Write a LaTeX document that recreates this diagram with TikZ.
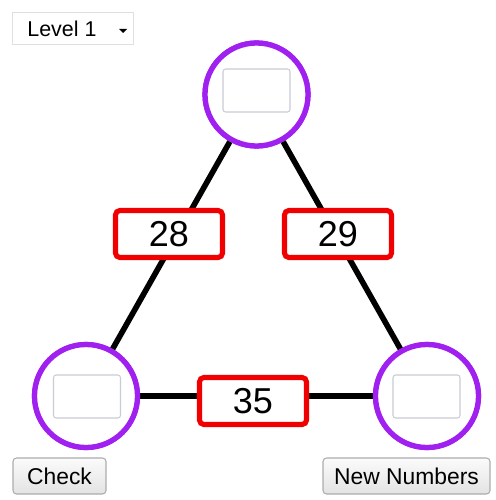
\documentclass[tikz,border=0pt]{standalone}
\usepackage{fontspec}
\setmainfont{Liberation Sans}
\definecolor{ringpurple}{HTML}{A020F0}
\definecolor{boxred}{HTML}{F00000}
\definecolor{inboxgray}{HTML}{C8CCD4}
\begin{document}
\begin{tikzpicture}[x=0.02cm,y=-0.02cm,
  ring/.style={circle, draw=ringpurple, line width=3pt, fill=white, minimum size=2.06cm, inner sep=0pt},
  inbox/.style={draw=inboxgray, rounded corners=1.5pt, line width=0.6pt, fill=white, minimum width=1.34cm, minimum height=0.86cm, inner sep=0pt},
  numbox/.style={draw=boxred, line width=2.9pt, rounded corners=2.5pt, fill=white, minimum width=2.14cm, minimum height=0.94cm, inner sep=0pt, font=\fontsize{20.5}{24}\selectfont},
  edgeline/.style={line width=3.2pt, black},
  btn/.style={draw=gray!65, rounded corners=2pt, top color=gray!3, bottom color=gray!22, line width=0.6pt, minimum height=0.72cm, inner sep=0pt, font=\fontsize{13}{15}\selectfont},
  ddbox/.style={draw=gray!25, line width=0.5pt, fill=white, minimum width=2.42cm, minimum height=0.64cm, inner sep=0pt}
]
\useasboundingbox (0,0) rectangle (496,500);
% circles
\node[ring] (top) at (256.5,94.5) {};
\node[ring] (bl) at (86,396) {};
\node[ring] (br) at (427,396) {};
% connectors
\draw[edgeline] (top) -- (bl);
\draw[edgeline] (top) -- (br);
\draw[edgeline] (bl) -- (br);
% redraw circles on top
\node[ring] at (top) {};
\node[ring] at (bl) {};
\node[ring] at (br) {};
% input boxes
\node[inbox] (intop) at (256.5,90.5) {};
\node[inbox] (inbl) at (87,396.5) {};
\node[inbox] (inbr) at (426.5,396.5) {};
% number boxes
\node[numbox] (n28) at (169,234) {28};
\node[numbox] (n29) at (338,234) {29};
\node[numbox] (n35) at (253,401) {35};
% dropdown
\node[ddbox] (dd) at (72.5,28) {};
\node[anchor=west, inner sep=0pt, font=\fontsize{12.2}{14}\selectfont] (ddtext) at (27,29) {Level 1};
\fill[black] (119,29) -- (127,29) -- (123,33) -- cycle;
% buttons
\node[btn, minimum width=1.86cm] (check) at (59.5,476) {Check};
\node[btn, minimum width=3.34cm] (newnum) at (406.5,476) {New Numbers};
\end{tikzpicture}
\end{document}
